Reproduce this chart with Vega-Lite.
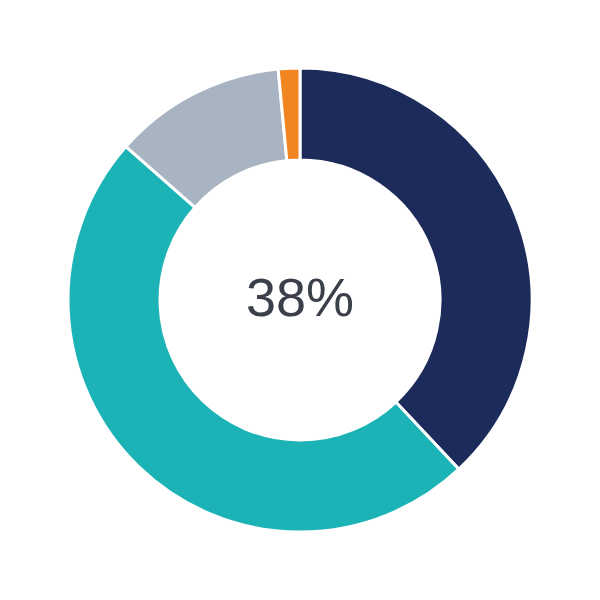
{
  "$schema": "https://vega.github.io/schema/vega-lite/v6.json",
  "width": 600,
  "height": 600,
  "padding": 0,
  "autosize": {"type": "fit", "contains": "padding"},
  "background": "white",
  "config": {"view": {"stroke": null}},
  "data": {
    "values": [
      {"segment": "A", "order": 1, "share": 38},
      {"segment": "B", "order": 2, "share": 48.5},
      {"segment": "C", "order": 3, "share": 12},
      {"segment": "D", "order": 4, "share": 1.5}
    ]
  },
  "layer": [
    {
      "mark": {"type": "arc", "outerRadius": 232, "innerRadius": 140, "stroke": "white", "strokeWidth": 3},
      "encoding": {
        "theta": {"field": "share", "type": "quantitative", "stack": true},
        "order": {"field": "order", "type": "quantitative"},
        "color": {
          "field": "segment",
          "type": "nominal",
          "legend": null,
          "scale": {
            "domain": ["A", "B", "C", "D"],
            "range": ["#1c2b5a", "#1bb3b5", "#a9b4c2", "#f08522"]
          }
        }
      }
    },
    {
      "data": {"values": [{"label": "38%"}]},
      "mark": {
        "type": "text",
        "font": "Liberation Sans",
        "fontSize": 54,
        "color": "#3a3f4a",
        "align": "center",
        "baseline": "middle"
      },
      "encoding": {"text": {"field": "label", "type": "nominal"}}
    }
  ]
}
